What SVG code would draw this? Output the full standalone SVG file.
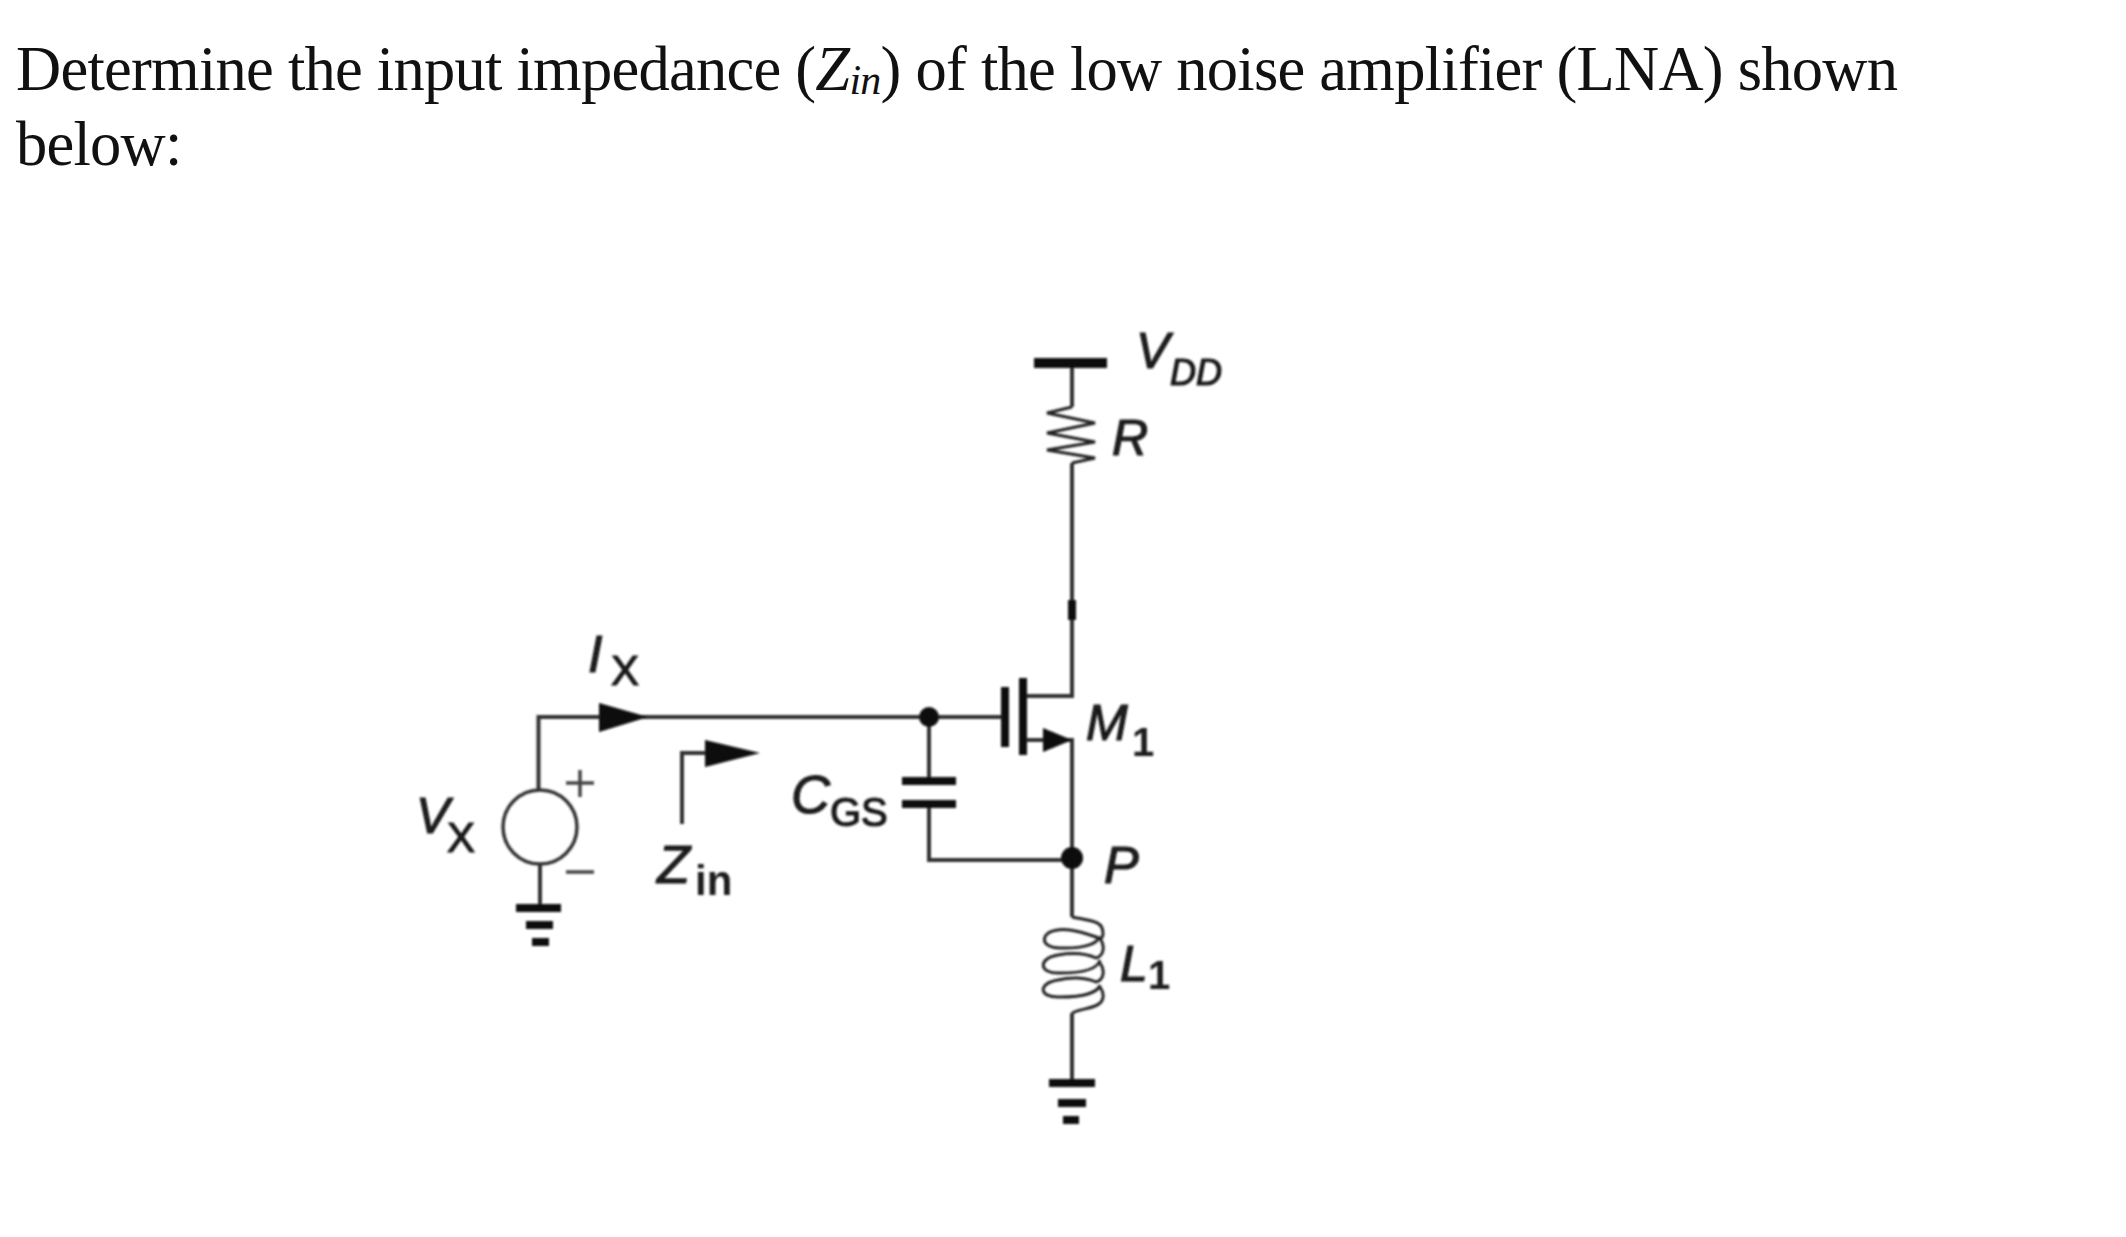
<svg xmlns="http://www.w3.org/2000/svg" width="2126" height="1237" viewBox="0 0 2126 1237">
<style>
.h{font-family:"Liberation Serif",serif;font-size:62.500px;letter-spacing:-0.750px;fill:#111}
.l{font-family:"Liberation Sans",Arial,sans-serif;fill:#1a1a1a;stroke:#1a1a1a;stroke-width:1.200px;font-size:50px;font-style:italic}
.b{font-family:"Liberation Sans",Arial,sans-serif;fill:#1a1a1a;stroke:#1a1a1a;stroke-width:1.200px;font-size:42px}
.bb{font-weight:700;stroke-width:0}
.w{fill:none;stroke:#333;stroke-width:4}
.t{fill:none;stroke:#111;stroke-width:8}
.a{fill:#0a0a0a}
</style>
<defs><filter id="soft" x="-5%" y="-5%" width="110%" height="110%"><feGaussianBlur stdDeviation="0.9"/></filter></defs>
<rect width="2126" height="1237" fill="#fff"/>
<g id="question">
<text class="h" x="16" y="90">Determine the input impedance (<tspan font-style="italic">Z</tspan><tspan font-style="italic" font-size="42" dy="4">in</tspan><tspan dy="-4">) of the low noise amplifier (LNA) shown</tspan></text>
<text class="h" x="16" y="165">below:</text>
</g>
<g filter="url(#soft)">
<g id="connectors">
<path class="w" d="M538.500 790V717H1005"/>
<path class="w" d="M540 865V908"/>
<path class="w" d="M682 824V753H706"/>
<path class="w" d="M929 717V781M929 804V860H1072"/>
<path class="w" d="M1072 363V407M1072 463V696H1023"/>
<path class="w" d="M1023 740H1072V917M1072 1013V1083"/>
<path d="M1072 600V620" stroke="#111" stroke-width="8"/>
</g>
<g id="vdd"><path class="t" d="M1034 363H1107" style="stroke-width:10px"/><text class="l" x="1136" y="368">V</text><text class="l" x="1170" y="385" style="font-size:36px">DD</text></g>
<g id="resistor"><path fill="none" stroke="#222" stroke-width="3" d="M1072 407L1047 413L1095 423L1047 433L1095 442L1047 450L1095 458L1072 463"/><text class="l" x="1112" y="455">R</text></g>
<g id="m1">
<path class="t" d="M1023 678V755M1005 687V747"/>
<path class="a" d="M1043 728L1072 740L1043 752Z"/>
<text class="l" x="1086" y="740">M</text><text class="b bb" x="1132" y="756" style="font-size:40px">1</text>
</g>
<g id="node-gate"><circle class="a" cx="929" cy="717" r="10"/></g>
<g id="node-p"><circle class="a" cx="1072" cy="858" r="11"/><text class="l" x="1104" y="883" style="font-size:52px">P</text></g>
<g id="cgs"><path class="t" d="M902 781H956M902 804H956"/><text class="l" x="791" y="813" style="font-size:54px">C</text><text class="b" x="830" y="826" style="font-size:40px">GS</text></g>
<g id="inductor"><path fill="none" stroke="#222" stroke-width="3" d="M1072 917C1092 921 1103 921 1103 933C1103 944 1096 934 1070 930C1040 926 1036 948 1060 948C1085 949 1098 943 1099 937M1100 938C1106 948 1103 956 1096 958C1085 953 1070 953 1058 955C1038 958 1038 974 1060 973C1085 973 1098 968 1100 960M1100 963C1106 972 1103 980 1096 982C1085 977 1070 977 1058 980C1038 983 1038 998 1060 997C1085 997 1098 992 1100 985M1100 987C1106 996 1103 1003 1095 1006C1088 1009 1080 1009 1072 1013"/><text class="l" x="1120" y="981">L</text><text class="b bb" x="1148" y="989" style="font-size:40px">1</text></g>
<g id="ground-l1"><path class="t" d="M1049 1083H1095M1058 1103H1086M1063 1120H1079"/></g>
<g id="source-vx"><circle cx="540" cy="827" r="37" fill="none" stroke="#333" stroke-width="3.500"/>
<path stroke="#444" stroke-width="3.500" fill="none" d="M566 783H594M580 770V797M566 872H594"/>
<text class="l" x="416" y="833">V</text><text class="b" x="447" y="852">X</text></g>
<g id="ground-vx"><path class="t" d="M516 908H561M526 925H553M532 942H549"/></g>
<g id="ix"><path class="a" d="M599 703L648 717L599 732Z"/><text class="l" x="588" y="672" style="font-size:52px">I</text><text class="b" x="611" y="685">X</text></g>
<g id="zin"><path class="a" d="M705 740L760 753L705 767Z"/><text class="l" x="657" y="883" style="font-size:54px">Z</text><text class="b bb" x="695" y="895">in</text></g>
</g>
</svg>
